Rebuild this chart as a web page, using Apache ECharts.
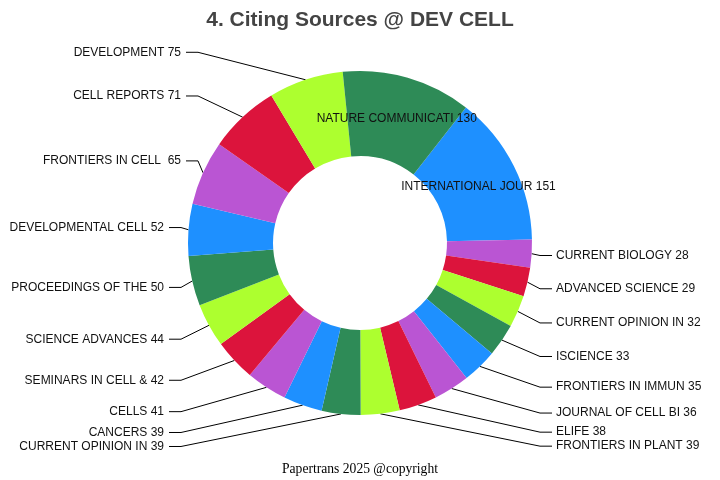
<!DOCTYPE html>
<html>
<head>
<meta charset="utf-8">
<script src="https://cdn.jsdelivr.net/npm/echarts@6/dist/echarts.min.js"></script>
<style>
  html, body { margin: 0; padding: 0; background: #fff; }
  #chart { width: 720px; height: 480px; }
</style>
</head>
<body>
<div id="chart"></div>
<script>
// journals, clockwise from the big blue slice
const sources = [
  'INTERNATIONAL JOUR', 'CURRENT BIOLOGY', 'ADVANCED SCIENCE', 'CURRENT OPINION IN',
  'ISCIENCE', 'FRONTIERS IN IMMUN', 'JOURNAL OF CELL BI', 'ELIFE',
  'FRONTIERS IN PLANT', 'CURRENT OPINION IN', 'CANCERS', 'CELLS',
  'SEMINARS IN CELL &', 'SCIENCE ADVANCES', 'PROCEEDINGS OF THE', 'DEVELOPMENTAL CELL',
  'FRONTIERS IN CELL ', 'CELL REPORTS', 'DEVELOPMENT', 'NATURE COMMUNICATI'
];
const counts = [151, 28, 29, 32, 33, 35, 36, 38, 39, 39, 39, 41, 42, 44, 50, 52, 65, 71, 75, 130];
const palette = ['#1E90FF', '#BA55D3', '#DC143C', '#ADFF2F', '#2E8B57'];
const insideMin = 100; // big slices get their label on the ring

const cx = 360, cy = 243;
const chart = echarts.init(document.getElementById('chart'));

const pieData = sources.map((name, i) => ({
  name: name + '_' + i,
  value: counts[i],
  label: counts[i] >= insideMin ? { position: 'inside', width: null } : undefined,
  labelLine: counts[i] >= insideMin ? { show: false } : undefined,
  itemStyle: { color: palette[i % palette.length] }
}));

// put outside labels in two columns, keep the y that echarts worked out
function placeLabel(params) {
  if (counts[params.dataIndex] >= insideMin) return { dy: 3 };
  if (!params.labelLinePoints) return {};
  const start = params.labelLinePoints[0];
  const r = params.labelRect;
  const y = r.y + r.height / 2;
  if (start[0] >= cx) {
    const end = 552;
    return {
      x: end + 4, y: y, align: 'left', verticalAlign: 'middle',
      labelLinePoints: [start, [end - 12, y], [end, y]]
    };
  }
  const end = y < 200 ? 186 : 169;
  return {
    x: end - 5, y: y, align: 'right', verticalAlign: 'middle',
    labelLinePoints: [start, [end + 12, y], [end, y]]
  };
}

chart.setOption({
  animation: false,
  title: [{
    text: '4. Citing Sources @ DEV CELL',
    left: 'center',
    top: 5,
    textStyle: { fontFamily: 'Arial, Liberation Sans', fontSize: 21, fontWeight: 'bold', color: '#444' }
  }, {
    text: 'Papertrans 2025 @copyright',
    left: 'center',
    top: 457,
    textStyle: { fontFamily: 'Liberation Serif, Times New Roman, serif', fontSize: 13.6, fontWeight: 'normal', color: '#000' }
  }],
  series: [{
    type: 'pie',
    center: [cx, cy],
    radius: [87, 172],
    startAngle: 52,
    clockwise: true,
    avoidLabelOverlap: true,
    data: pieData,
    label: {
      show: true,
      position: 'outside',
      color: '#111',
      fontFamily: 'Arial, Liberation Sans',
      fontSize: 12,
      lineHeight: 12,
      width: 200,
      overflow: 'none',
      formatter: p => sources[p.dataIndex] + ' ' + p.value
    },
    labelLine: {
      show: true,
      length: 29,
      length2: 0,
      lineStyle: { color: '#000', width: 1 }
    },
    labelLayout: placeLabel,
    emphasis: { disabled: true }
  }]
});
</script>
</body>
</html>
